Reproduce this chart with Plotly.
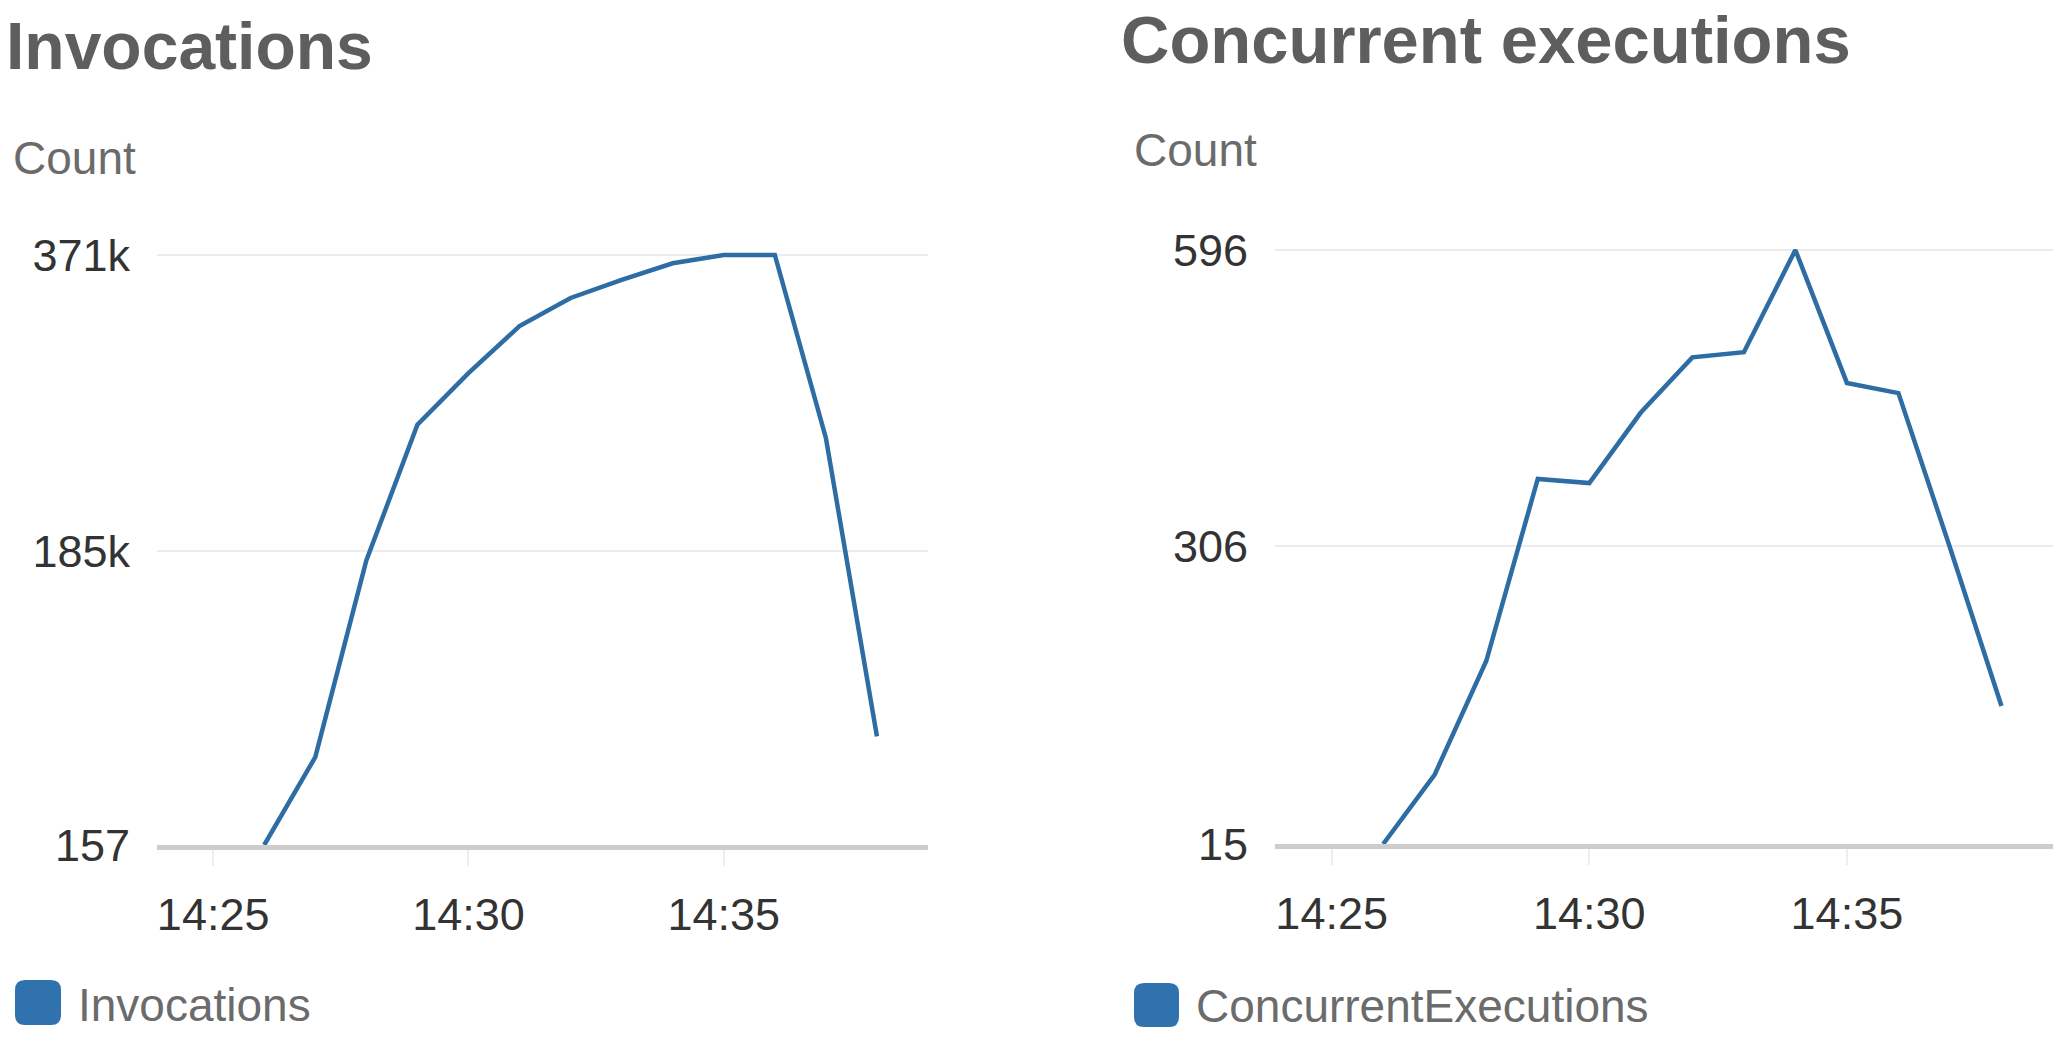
import plotly.graph_objects as go

# ---------------- data ----------------
times = ["14:26", "14:27", "14:28", "14:29", "14:30", "14:31", "14:32",
         "14:33", "14:34", "14:35", "14:36", "14:37", "14:38"]
invocations = [157, 55400, 179000, 264300, 296800, 326300, 344000,
               355300, 365800, 371000, 371000, 256000, 68500]
concurrent = [15, 83, 194, 372, 368, 437, 491, 496, 596, 466, 456, 305, 150]

inv_tickvals = [157, 185000, 371000]
inv_ticktext = ["157", "185k", "371k"]
conc_tickvals = [15, 306, 596]
conc_ticktext = ["15", "306", "596"]
x_tickvals = ["14:25", "14:30", "14:35"]

DATE = "2019-01-01 "
x_inv = [DATE + t for t in times]
x_ticks = [DATE + t for t in x_tickvals]

# ---------------- geometry helpers ----------------
W, H = 2071, 1038
def px(x):
    return x / W
def py(y):
    return 1 - y / H

LINE = "#2e6da4"
SWATCH = "#2f72ad"
FONT = "Liberation Sans, Arial, sans-serif"

fig = go.Figure()
fig.add_trace(go.Scatter(x=x_inv, y=invocations, mode="lines", name="Invocations",
                         line=dict(color=LINE, width=4.5), xaxis="x", yaxis="y",
                         showlegend=False))
fig.add_trace(go.Scatter(x=x_inv, y=concurrent, mode="lines", name="ConcurrentExecutions",
                         line=dict(color=LINE, width=4.5), xaxis="x2", yaxis="y2",
                         showlegend=False))

x_range = [DATE + "14:23:54", DATE + "14:39:00"]

def xaxis(domain, anchor):
    return dict(domain=domain, anchor=anchor, type="date", range=x_range,
                tickvals=x_ticks, tickformat="%H:%M", automargin=False,
                showgrid=False, zeroline=False,
                showline=True, linecolor="#cdcdcd", linewidth=5,
                ticks="outside", ticklen=16, tickwidth=2, tickcolor="#eeeeee",
                ticklabelstandoff=10, layer="below traces",
                tickfont=dict(family=FONT, size=45, color="#333333"))

def yaxis(domain, anchor, rng, tv, tt):
    return dict(domain=domain, anchor=anchor, range=rng, automargin=False,
                tickvals=tv, ticktext=tt,
                showgrid=True, gridcolor="#ececec", gridwidth=2,
                zeroline=False, showline=False, ticks="",
                ticklabelstandoff=26,
                tickfont=dict(family=FONT, size=45, color="#333333"))

inv_top = 157 + (845 - 240) * (371000 - 157) / (845 - 255)
conc_top = 15 + (844 - 240) * (596 - 15) / (844 - 250)

fig.update_layout(
    width=W, height=H, autosize=False,
    margin=dict(l=0, r=0, t=0, b=0, pad=0),
    paper_bgcolor="white", plot_bgcolor="white",
    hovermode=False,
    xaxis=xaxis([px(157), px(928)], "y"),
    yaxis=yaxis([py(845), py(240)], "x", [157, inv_top], inv_tickvals, inv_ticktext),
    xaxis2=xaxis([px(1275), px(2053)], "y2"),
    yaxis2=yaxis([py(844), py(240)], "x2", [15, conc_top], conc_tickvals, conc_ticktext),
)

def label(text, x, y, size, color, bold=False):
    fig.add_annotation(text=text, x=px(x), y=py(y), xref="paper", yref="paper",
                       xanchor="left", yanchor="middle", showarrow=False,
                       font=dict(family=FONT, size=size, color=color,
                                 weight="bold" if bold else "normal"))

label("Invocations", 4, 46, 66, "#5e5e5e", bold=True)
label("Concurrent executions", 1119, 39, 67, "#5e5e5e", bold=True)
label("Count", 11, 158, 46, "#6b6b6b")
label("Count", 1132, 150, 46, "#6b6b6b")
label("Invocations", 76, 1005, 46, "#6b6b6b")
label("ConcurrentExecutions", 1194, 1006, 46, "#6b6b6b")

def rounded_square(x0, y0, x1, y1, r):
    X = lambda v: px(v)
    Y = lambda v: py(v)
    p = (f"M {X(x0 + r)} {Y(y0)} L {X(x1 - r)} {Y(y0)} "
         f"Q {X(x1)} {Y(y0)} {X(x1)} {Y(y0 + r)} L {X(x1)} {Y(y1 - r)} "
         f"Q {X(x1)} {Y(y1)} {X(x1 - r)} {Y(y1)} L {X(x0 + r)} {Y(y1)} "
         f"Q {X(x0)} {Y(y1)} {X(x0)} {Y(y1 - r)} L {X(x0)} {Y(y0 + r)} "
         f"Q {X(x0)} {Y(y0)} {X(x0 + r)} {Y(y0)} Z")
    fig.add_shape(type="path", path=p, xref="paper", yref="paper",
                  fillcolor=SWATCH, line=dict(width=0))

rounded_square(15, 980, 61, 1025, 10)
rounded_square(1134, 983, 1179, 1027, 10)

# remove the default 8px page margin so the figure fills the window exactly
fig.write_html("out.html",
               config={"displayModeBar": False, "staticPlot": True},
               post_script="document.body.style.margin='0';document.body.style.overflow='hidden';")
